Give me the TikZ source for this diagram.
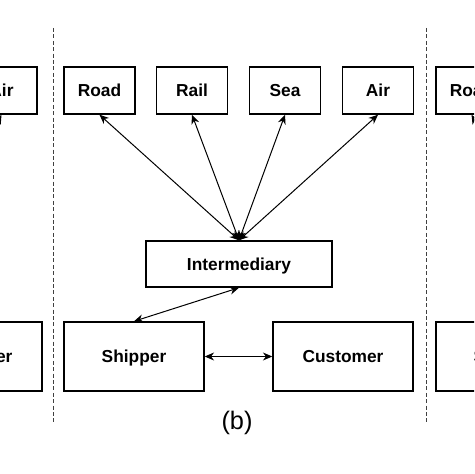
\documentclass[tikz,border=0pt]{standalone}
\usepackage{fontspec}
\setmainfont{Liberation Sans}
\usetikzlibrary{arrows.meta}

\tikzset{every picture/.style={line width=0.75pt}}
\tikzset{
  boxfont/.style={font=\fontsize{13}{15}\selectfont\bfseries, text height=9.3pt, text depth=0pt},
  modebox/.style={draw, line width=1.1pt, boxfont, inner sep=0pt, minimum width=53.25pt, minimum height=35.25pt},
  partybox/.style={draw, line width=1.1pt, boxfont, inner sep=0pt, minimum width=105pt, minimum height=51.75pt},
  midbox/.style={draw, line width=1.1pt, boxfont, inner sep=0pt, minimum width=139.5pt, minimum height=34.5pt},
  link/.style={{Stealth[length=7pt,width=6pt]}-{Stealth[length=7pt,width=6pt]}},
  onelink/.style={-{Stealth[length=7pt,width=6pt]}},
  divider/.style={black!75, dash pattern=on 3pt off 1.8pt}
}

\begin{document}
\begin{tikzpicture}[x=0.75pt,y=0.75pt,yscale=-1,xscale=1]
	\useasboundingbox (0,0) rectangle (474,474);
	\clip (0,0) rectangle (474,474);

	%Straight Lines: dividers
	\draw [divider] (53,28) -- (53,422);
	\draw [divider] (426,28) -- (426,422);

	%Shape: Rectangle (panel a, cut off)
	\node [modebox] (airA) at (1.5,90.5) {Air};
	\node [partybox] (customerA) at (-28,356.5) {Customer};
	\coordinate (feedA) at (-25,165);
	\draw [onelink] (feedA) -- (airA.south);

	%Shape: Rectangle (panel b)
	\node [modebox] (road) at (99.5,90.5) {Road};
	\node [modebox] (rail) at (192,90.5) {Rail};
	\node [modebox] (sea) at (285,90.5) {Sea};
	\node [modebox] (air) at (378,90.5) {Air};
	\node [midbox] (inter) at (239,264) {Intermediary};
	\node [partybox] (shipper) at (134,356.5) {Shipper};
	\node [partybox] (customer) at (343,356.5) {Customer};

	%Straight Lines
	\foreach \m in {road,rail,sea,air}
	  \draw [link] (\m.south) -- (inter.north);
	\draw [link] (inter.south) -- (shipper.north);
	\draw [link] (shipper.east) -- (customer.west);

	%Shape: Rectangle (panel c, cut off)
	\node [modebox] (roadC) at (471.5,90.5) {Road};
	\node [partybox] (shipperC) at (506,356.5) {Shipper};
	\coordinate (feedC) at (500,165);
	\draw [onelink] (feedC) -- (roadC.south);

	% Text
	\node [font=\fontsize{19}{22}\selectfont] (caption) at (237,423) {(b)};

\end{tikzpicture}
\end{document}
